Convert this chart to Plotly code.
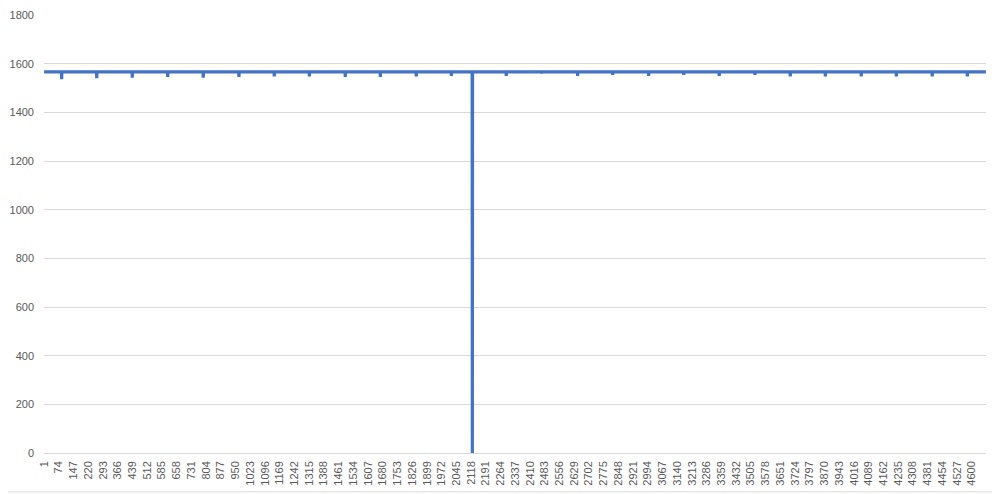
import plotly.graph_objects as go

# series: 4670 readings, flat at ~1566 with short dips and one drop to zero
n_points = 4670
baseline = 1566
dip_at = [88, 262, 438, 614, 790, 967, 1142, 1316, 1494, 1668, 1846, 2020,
          2124, 2292, 2468, 2646, 2820, 2998, 3172, 3348, 3525, 3700, 3874,
          4052, 4226, 4404, 4578]
dip_val = [1536, 1540, 1542, 1546, 1542, 1545, 1548, 1548, 1545, 1545, 1548, 1550,
           0, 1550, 1559, 1550, 1554, 1550, 1554, 1550, 1554, 1548, 1548,
           1548, 1548, 1548, 1548]

tick_labels = [1, 74, 147, 220, 293, 366, 439, 512, 585, 658, 731, 804, 877, 950,
               1023, 1096, 1169, 1242, 1315, 1388, 1461, 1534, 1607, 1680, 1753,
               1826, 1899, 1972, 2045, 2118, 2191, 2264, 2337, 2410, 2483, 2556,
               2629, 2702, 2775, 2848, 2921, 2994, 3067, 3140, 3213, 3286, 3359,
               3432, 3505, 3578, 3651, 3724, 3797, 3870, 3943, 4016, 4089, 4162,
               4235, 4308, 4381, 4454, 4527, 4600]

x = list(range(1, n_points + 1))
y = [baseline] * n_points
for i, v in zip(dip_at, dip_val):
    y[i - 1] = v

fig = go.Figure()
fig.add_trace(go.Scatter(
    x=x, y=y, mode='lines',
    line=dict(color='#4472C4', width=3.2, simplify=False),
    hoverinfo='skip', showlegend=False
))

font = dict(family='Liberation Sans', size=11, color='#595959')

# page body has an 8px margin, so the figure is sized to fit the window
fig.update_layout(
    width=992, height=486,
    margin=dict(l=36, r=14, t=7, b=41, autoexpand=False),
    paper_bgcolor='white', plot_bgcolor='white',
    font=font,
    xaxis=dict(
        range=[0.5, n_points + 0.5],
        tickmode='array',
        tickvals=tick_labels,
        ticktext=[str(t) for t in tick_labels],
        tickangle=-90,
        showgrid=False, zeroline=False, showline=False,
        ticks='', ticklabelstandoff=5, automargin=False,
    ),
    yaxis=dict(
        range=[0, 1800], dtick=200,
        gridcolor='#D9D9D9', gridwidth=1,
        zeroline=True, zerolinecolor='#D9D9D9', zerolinewidth=1,
        showline=False, ticks='', ticklabelstandoff=9, automargin=False,
    ),
    shapes=[dict(
        type='rect', xref='paper', yref='paper',
        x0=-0.2, x1=(990.5 - 36) / 942,
        y0=-(484.2 - 445.3) / 438.3, y1=1.2,
        line=dict(color='#D9D9D9', width=1), layer='below'
    )]
)

fig.write_html("out.html")
